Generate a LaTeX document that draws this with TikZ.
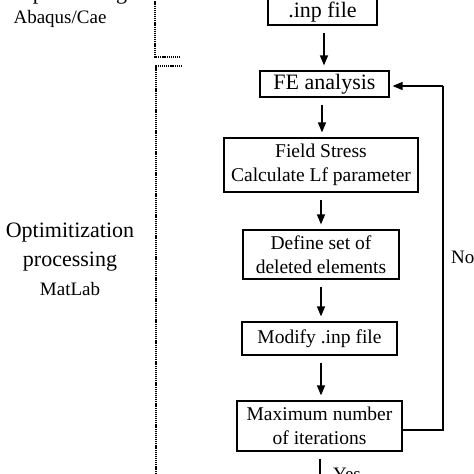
\documentclass[tikz,border=0pt]{standalone}
\usepackage{fontspec}
\setmainfont{Liberation Serif}
\usetikzlibrary{arrows.meta}
\newcommand\boxfont{\fontsize{19.5}{24}\selectfont}
\newcommand\bigfont{\fontsize{22}{29}\selectfont}
\newcommand\midfont{\fontsize{19}{23}\selectfont}
\tikzset{
  procbox/.style={draw, line width=1.2pt, align=center, inner sep=0pt, font=\boxfont},
  bigbox/.style={procbox, font=\bigfont},
  flowarrow/.style={line width=1.3pt, -{Triangle[length=10pt,width=8pt]}, shorten <=7pt, shorten >=5pt},
  loopline/.style={line width=1.3pt},
  bracket/.style={line width=1.3pt, dash pattern=on 1.2pt off 0.9pt},
  lbl/.style={inner sep=0pt, anchor=base}
}
\begin{document}
\begin{tikzpicture}[x=1pt,y=-1pt]
\useasboundingbox (0,0) rectangle (474,474);
\fill[white] (0,0) rectangle (474,474);
\clip (0,0) rectangle (474,474);
% boxes
\node[bigbox, minimum width=109pt, minimum height=26pt] (inp) at (322.5,12) {.inp file};
\node[bigbox, minimum width=129pt, minimum height=26pt] (fe) at (324.5,84) {FE analysis};
\node[procbox, minimum width=194pt, minimum height=54pt] (field) at (321,165) {Field Stress\\Calculate Lf parameter};
\node[procbox, minimum width=156pt, minimum height=49pt] (define) at (321,254.5) {Define set of\\deleted elements};
\node[procbox, minimum width=155pt, minimum height=33pt] (modify) at (319.5,338.5) {Modify .inp file};
\node[procbox, minimum width=165pt, minimum height=50pt] (max) at (319.5,426) {Maximum number\\of iterations};
% arrows
\draw[flowarrow] (inp.south -| 324,0) -- (fe.north -| 324,0);
\draw[flowarrow] (fe.south -| 322,0) -- (field.north -| 322,0);
\draw[flowarrow] (field.south -| 321,0) -- (define.north -| 321,0);
\draw[flowarrow] (define.south -| 321,0) -- (modify.north -| 321,0);
\draw[flowarrow] (modify.south -| 321,0) -- (max.north -| 321,0);
\coordinate (out) at (320,492);
\draw[flowarrow] (max.south -| 320,0) -- (out);
% loop back
\coordinate (c1) at (443,430);
\coordinate (c2) at (443,86);
\draw[loopline] (max.east |- c1) -- (c1) -- (c2);
\draw[loopline, -{Triangle[length=10pt,width=8pt]}, shorten >=3pt] (c2) -- (fe.east |- c2);
\node[lbl, font=\midfont, anchor=base west] (no) at (451,263) {No};
\node[lbl, font=\midfont, anchor=base west] (yes) at (333,480) {Yes};
% brackets
\coordinate (b1) at (155,-5);
\coordinate (b2) at (155,57);
\coordinate (b3) at (180,57);
\draw[bracket] (b1) -- (b2) -- (b3);
\coordinate (b4) at (182,66);
\coordinate (b5) at (156,66);
\coordinate (b6) at (156,480);
\draw[bracket] (b4) -- (b5) -- (b6);
% left labels
\node[lbl, font=\bigfont] (pre) at (80,-1) {processing};
\node[lbl, font=\midfont] (abaqus) at (60,23) {Abaqus/Cae};
\node[lbl, font=\bigfont] (opt) at (70,237) {Optimitization};
\node[lbl, font=\bigfont] (proc) at (70,266) {processing};
\node[lbl, font=\midfont] (matlab) at (70,295) {MatLab};
\end{tikzpicture}
\end{document}
